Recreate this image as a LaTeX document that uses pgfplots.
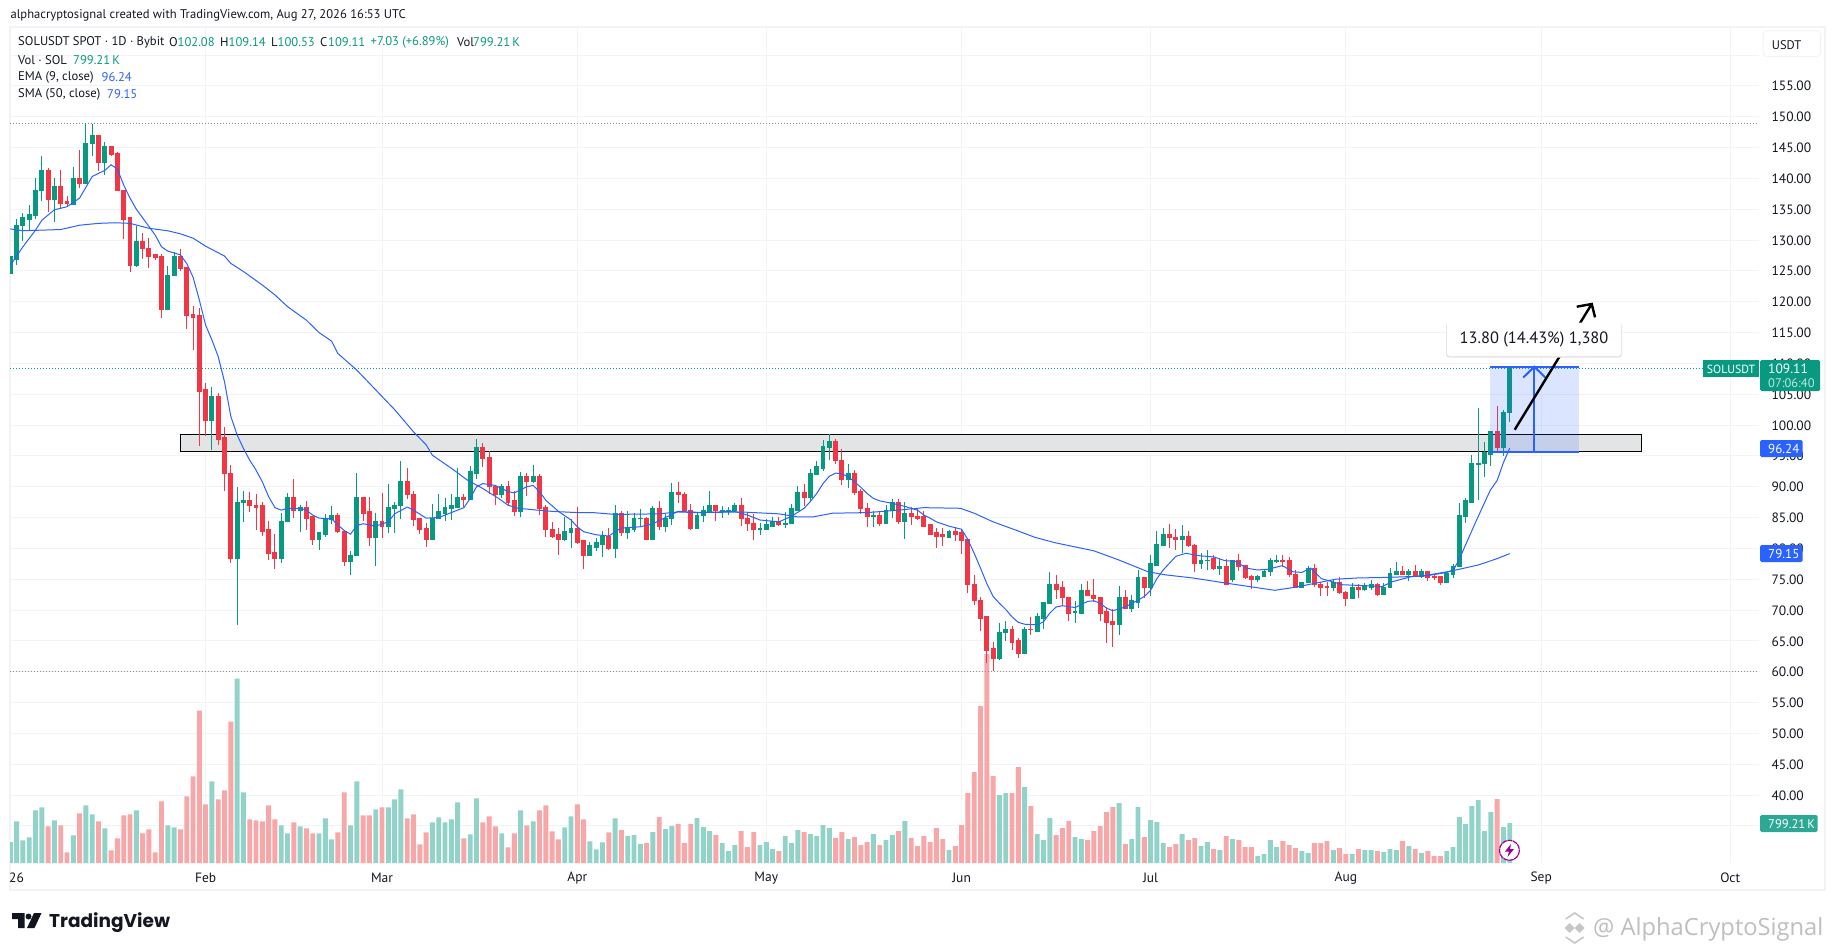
\documentclass[border=0pt]{standalone}
\usepackage{pgfplots}
\usepackage{pgfplotstable}
\usepackage{fontspec}
\pgfplotsset{compat=1.18}
\setmainfont{PT Sans}
\newfontfamily\logofont{Poppins}
\newfontfamily\wmfont{Open Sans}
\definecolor{up}{HTML}{089981}
\definecolor{dn}{HTML}{F23645}
\definecolor{vup}{HTML}{92D3C9}
\definecolor{vdn}{HTML}{F8A7A9}
\definecolor{tvblue}{HTML}{2962FF}
\definecolor{gridc}{HTML}{F2F3F5}
\definecolor{txt}{HTML}{131722}
\definecolor{zonec}{HTML}{E3E4E6}
\pgfplotstableread{
d o h l c v
0 124.5 127.4 124.5 127.4 420
1 126.9 133.4 125.9 132.4 832
2 132.3 134.3 129.9 133.6 453
3 133.4 135.7 131.7 134.2 513
4 134.0 140.1 133.4 138.1 1052
5 138.0 143.6 136.4 141.3 1112
7 136.5 140.1 133.0 138.6 852
10 135.8 141.9 135.8 139.9 553
12 139.2 148.9 139.2 145.7 1152
13 145.6 148.8 143.6 146.9 972
15 142.5 145.9 140.5 145.1 693
20 125.8 132.3 125.6 129.7 1052
25 118.8 125.8 118.6 124.3 753
26 124.2 128.1 124.2 127.4 713
32 100.7 106.2 96.0 104.7 1632
36 78.3 90.0 67.6 87.5 3690
37 87.5 89.3 84.3 87.7 1412
43 78.3 85.7 77.6 84.4 753
44 84.3 89.0 84.3 88.2 593
46 86.1 87.0 82.7 86.6 733
49 81.5 82.7 79.7 82.5 593
50 82.3 85.6 81.8 84.8 892
51 84.6 86.9 84.0 85.3 473
54 77.8 79.6 75.7 78.9 753
55 78.8 92.2 78.8 88.2 1632
58 81.7 85.7 77.1 84.4 1072
60 83.5 90.4 82.5 86.7 1112
61 86.5 87.5 82.5 87.0 1272
62 86.9 94.2 84.8 90.9 1472
67 81.5 87.2 81.5 84.9 813
68 84.8 88.8 84.8 85.9 912
69 85.7 88.2 84.4 86.7 813
70 86.5 88.8 84.6 86.9 872
71 86.7 93.0 86.7 88.2 1212
73 88.0 93.4 87.8 92.4 573
74 92.2 97.7 91.3 96.3 1292
78 88.8 90.4 88.2 90.0 593
81 86.0 92.4 85.1 91.6 1052
83 90.8 93.5 90.6 91.7 832
88 81.4 85.1 81.2 82.7 713
89 82.5 84.8 80.1 83.3 932
92 78.8 81.0 78.8 80.4 433
93 80.2 81.7 79.6 80.9 273
94 80.7 82.8 78.6 82.0 413
96 79.9 87.0 78.4 85.6 892
98 82.5 86.1 81.5 83.3 539
99 83.1 85.7 82.7 84.9 559
100 84.8 86.4 83.6 84.9 380
102 81.4 86.9 81.4 86.5 619
104 83.6 85.6 82.7 84.9 679
105 84.8 90.6 83.8 89.1 739
109 83.3 85.9 83.3 85.4 899
110 85.3 86.9 84.3 86.1 719
111 85.9 89.3 85.9 86.9 639
113 85.9 86.9 84.9 86.2 400
114 85.9 86.7 85.4 86.2 240
115 86.1 87.4 85.9 87.0 360
119 83.0 84.1 82.2 83.2 360
120 83.0 84.8 83.0 83.8 420
121 83.6 85.1 83.5 84.3 280
123 83.8 85.9 83.3 84.1 539
124 84.0 87.2 84.0 86.4 400
125 86.2 90.1 86.2 89.1 659
127 88.3 92.9 87.7 92.1 579
128 91.9 94.2 91.9 93.2 539
129 93.0 97.5 92.5 96.6 759
130 96.4 98.5 94.3 97.4 699
133 91.1 93.7 89.8 92.2 480
137 85.2 86.1 83.5 85.4 579
139 84.1 87.0 84.0 86.2 460
140 86.1 88.0 85.0 87.4 559
142 84.3 87.5 81.5 85.7 839
149 81.8 83.0 81.8 82.8 260
157 62.1 67.9 61.9 66.4 1359
158 66.3 68.2 65.0 66.8 1399
161 63.0 67.2 63.0 66.9 1518
163 66.6 69.5 66.6 68.9 579
164 68.7 71.3 67.0 71.3 460
165 71.1 76.2 71.1 74.1 899
169 69.7 71.5 67.9 69.8 519
170 69.5 74.2 69.5 73.2 480
176 67.6 73.9 66.0 72.0 1199
178 70.3 72.4 69.7 71.5 480
179 71.3 76.5 70.3 75.2 1119
181 73.6 78.9 72.3 77.5 859
182 77.3 82.8 77.1 80.7 819
183 80.5 83.3 80.4 82.3 400
186 81.5 83.8 79.2 82.0 579
189 77.6 79.2 76.7 78.1 340
190 78.0 79.7 76.5 78.1 420
192 76.8 78.3 75.7 77.0 260
194 74.9 78.0 74.6 78.0 480
198 74.9 75.7 74.5 75.5 140
199 75.4 76.5 75.4 76.3 180
200 76.2 78.4 75.5 78.0 460
201 77.8 78.9 77.6 78.1 320
205 73.7 74.5 73.6 74.5 240
206 74.4 77.1 74.4 76.8 200
210 73.6 75.0 73.1 74.5 260
213 71.8 74.4 71.8 73.6 180
215 73.4 74.4 73.1 73.9 260
216 73.6 74.9 73.3 74.1 260
218 72.6 74.4 72.4 73.7 220
219 73.6 76.8 73.6 76.0 280
220 75.8 77.8 75.8 76.3 260
222 75.8 76.6 74.7 76.3 340
224 75.4 76.6 75.2 76.3 200
228 74.5 76.2 74.4 76.0 240
229 75.8 77.5 75.2 77.1 320
230 77.0 87.4 77.0 85.4 919
231 85.2 88.2 84.1 87.7 779
232 87.5 95.1 87.5 93.8 1139
233 93.7 102.7 87.8 93.8 1259
234 93.7 97.2 91.6 95.5 639
235 95.2 98.9 93.4 98.9 1019
237 96.3 102.5 94.9 102.0 719
238 102.08 109.14 100.53 109.11 799.21
}\upbars
\pgfplotstableread{
d o h l c v
6 141.3 141.7 134.5 136.5 733
8 138.6 141.3 135.1 136.0 753
9 136.2 137.1 135.3 136.0 213
11 139.9 144.6 138.4 139.2 992
14 146.9 146.9 141.2 142.5 832
16 145.1 145.2 143.6 143.8 253
17 144.0 144.3 138.0 138.0 493
18 138.1 138.1 130.2 133.4 952
19 133.6 133.6 124.8 125.8 972
21 129.7 131.1 126.9 128.6 593
22 128.7 130.3 125.4 127.4 673
23 127.6 127.7 126.8 127.2 213
24 127.4 127.7 117.4 118.8 1232
27 127.4 128.5 125.0 125.3 673
28 125.5 125.5 115.6 117.8 1332
29 118.0 119.3 112.2 117.5 1732
30 117.7 118.9 96.6 105.5 3050
31 105.7 106.8 98.3 100.7 1172
33 104.7 105.2 96.8 97.7 1272
34 97.9 99.7 89.3 92.1 1452
35 92.2 93.5 77.6 78.3 2830
38 87.7 89.1 85.9 86.9 872
39 87.0 88.8 83.0 86.7 852
40 86.9 87.5 82.0 82.8 832
41 83.0 84.4 78.1 79.1 1152
42 79.3 82.3 76.7 78.3 872
45 88.2 91.2 85.0 86.1 813
47 86.6 87.7 83.0 84.9 693
48 85.1 85.1 80.5 81.5 593
52 85.3 85.7 82.5 82.7 613
53 82.8 82.8 77.1 77.8 1412
56 88.2 88.2 84.4 85.7 952
57 85.9 88.3 80.4 81.7 952
59 84.4 89.0 81.7 83.5 1112
63 90.9 93.0 88.0 88.7 892
64 88.8 89.3 83.6 84.6 972
65 84.8 84.8 82.3 83.1 373
66 83.3 84.1 80.2 81.5 613
72 88.2 88.8 86.7 88.0 493
75 96.3 97.1 93.2 94.5 813
76 94.7 95.8 88.8 90.0 932
77 90.1 90.1 87.0 88.8 733
79 90.0 90.9 86.9 87.4 313
80 87.7 89.3 85.3 86.0 593
82 91.6 92.2 88.5 90.8 753
84 91.7 92.0 85.4 86.4 1052
85 86.6 87.0 81.8 83.0 1152
86 83.1 84.3 81.7 82.0 633
87 82.2 83.3 78.9 81.4 473
90 83.3 86.7 80.7 81.0 1172
91 81.2 81.2 76.7 78.8 872
95 82.0 83.3 79.7 79.9 613
97 85.6 86.0 82.0 82.5 659
101 84.9 85.1 81.4 81.4 400
103 86.5 87.7 83.0 83.6 919
106 89.1 90.8 87.4 88.7 779
107 88.8 89.1 85.9 86.1 400
108 86.2 87.2 83.0 83.3 779
112 86.9 86.9 84.4 86.1 559
116 87.0 88.2 83.6 84.8 639
117 84.9 85.7 82.8 84.0 320
118 84.1 85.6 81.4 83.0 619
122 84.3 85.1 83.6 83.8 240
126 89.1 90.4 86.9 88.3 619
131 97.4 97.7 93.7 94.2 500
132 94.3 96.1 90.3 91.1 619
134 92.2 92.7 88.7 89.1 519
135 89.3 89.6 85.6 86.4 360
136 86.5 87.4 83.5 85.1 420
138 85.4 85.9 83.6 84.1 360
141 87.4 88.0 84.0 84.3 639
143 85.7 86.7 83.8 85.1 500
144 85.2 86.5 84.6 84.9 340
145 85.1 86.1 83.6 83.6 539
146 83.8 84.0 82.2 82.3 420
147 82.5 83.3 80.0 82.0 699
148 82.2 83.3 80.4 82.0 480
150 82.8 83.5 81.2 82.3 340
151 82.5 83.1 79.1 81.2 759
152 81.4 81.4 72.8 74.1 1399
153 74.2 75.7 70.8 71.5 1818
154 71.6 72.1 66.6 68.7 3137
155 68.9 69.0 61.4 63.5 4176
156 63.7 64.8 60.1 62.1 1738
159 66.8 67.4 63.5 64.8 1399
160 65.0 65.5 62.2 63.0 1918
162 66.9 68.9 66.0 66.8 1139
166 74.1 75.7 71.8 73.4 559
167 73.6 74.7 70.7 72.0 699
168 72.1 72.1 68.2 69.5 839
171 73.2 74.7 72.3 72.3 460
172 72.4 75.0 71.3 71.8 639
173 72.0 72.1 68.2 69.5 739
174 69.7 70.5 64.6 67.9 1019
175 68.1 70.2 64.0 67.6 1119
177 72.0 73.3 70.2 70.3 380
180 75.2 75.2 72.0 73.6 519
184 82.3 84.0 80.0 81.7 320
185 81.8 83.1 79.7 81.5 380
187 82.0 82.8 80.2 80.4 460
188 80.5 80.7 76.2 77.6 500
191 78.3 78.9 76.5 76.7 280
193 77.0 78.3 74.1 74.2 539
195 78.0 79.1 76.3 77.1 460
196 77.3 77.3 75.0 75.2 320
197 75.4 75.7 73.4 74.9 320
202 78.1 78.9 77.0 77.8 440
203 78.0 78.6 75.4 75.7 360
204 75.8 76.5 73.6 73.7 300
207 76.8 77.5 73.7 74.1 400
208 74.2 74.5 72.3 73.7 400
209 73.9 74.5 72.3 73.7 440
211 74.5 75.4 72.6 72.8 300
212 72.9 73.1 70.7 71.8 180
214 73.6 74.2 72.0 73.4 280
217 74.1 74.4 72.3 72.6 240
221 76.3 77.1 75.7 75.8 440
223 76.3 77.3 75.4 75.5 280
225 76.3 76.3 74.7 75.2 240
226 75.5 75.7 74.9 75.2 140
227 75.4 75.5 74.1 74.5 140
236 98.9 103.1 95.4 96.3 1279
}\dnbars
\pgfplotstableread{
d p
0 125.9
2 128.9
4 131.6
5 133.2
7 134.9
9 135.4
11 136.8
13 140.3
14 140.8
15 141.3
16 142.2
17 141.5
18 138.9
19 136.8
20 135.0
22 132.2
23 130.8
24 128.9
25 128.2
27 127.6
28 126.2
29 124.0
30 120.3
31 116.2
32 113.8
33 111.1
34 107.0
35 101.4
36 98.4
37 96.2
38 94.3
39 92.7
40 90.8
41 88.4
42 86.6
43 86.2
44 86.5
46 86.5
47 86.2
48 85.4
49 84.9
51 84.8
52 83.8
53 82.9
54 82.3
55 83.7
56 84.0
58 83.6
60 84.3
61 85.6
63 86.7
64 86.2
66 84.9
68 85.0
70 85.8
72 86.6
73 88.1
74 90.0
75 90.5
77 90.2
79 89.2
80 89.0
82 90.0
83 90.2
84 89.2
85 87.8
87 86.0
89 84.6
90 83.5
91 82.7
93 82.2
95 82.0
96 82.7
97 83.3
100 83.5
102 84.0
106 86.0
110 85.8
115 86.0
117 85.4
119 84.6
122 84.3
124 85.2
126 86.5
127 87.6
128 88.9
129 90.5
130 91.7
131 92.2
132 92.1
133 91.6
134 90.8
135 89.9
136 88.9
137 88.1
138 87.7
140 87.3
142 86.8
144 86.2
145 85.4
146 84.9
147 84.3
149 83.6
151 83.1
152 81.4
153 79.2
154 76.8
155 74.3
156 72.2
157 71.1
158 70.1
159 68.9
160 68.0
161 67.7
163 67.6
164 68.1
165 69.5
166 70.5
167 70.7
169 70.4
171 71.4
172 71.5
173 71.1
174 70.3
175 69.9
177 70.5
179 71.6
180 72.2
181 73.2
182 75.1
183 76.5
184 77.6
185 78.7
186.6 79.2
188.8 78.8
191.1 78.6
192.8 78.0
194.5 77.9
196.2 76.8
197.9 76.5
199.6 76.6
201.9 77.2
203.6 76.2
205 76.1
206.4 76.8
208.1 75.1
209.8 74.6
211.5 74.1
213.8 74.0
216 73.9
217.7 73.8
219.4 74.6
222.3 75.4
225.1 75.6
228 76.1
229.1 76.5
230.1 78.5
232.7 84.5
234.9 89.4
236 91.0
237 93.9
238 96.24
}\ema
\pgfplotstableread{
d p
0 131.8
2 131.5
5 131.6
8 131.7
11 132.4
14 132.7
16.6 132.8
19 132.7
22 131.9
25 131.5
27 131.0
29 130.3
31 129.0
34 127.4
35 126.2
37 124.9
40 122.7
42 121.1
44 119.2
47 117.0
49 115.0
51 113.6
52 111.6
55 108.9
58 105.7
61 102.5
64 98.9
66 96.8
67 95.1
70 93.0
72.5 91.1
75 89.7
77.5 88.1
79 87.0
80.6 86.5
83.7 86.2
86 86.0
90 85.8
92.5 85.8
96 85.5
103 85.6
106 85.9
109 85.8
116 85.9
122 85.6
125 85.1
127.4 85.1
130.5 85.7
136 85.8
141 86.2
145 86.6
150.8 86.5
153 85.7
156 84.3
159.5 83.0
162.6 81.8
165.9 80.9
172 79.6
176 78.1
180.6 76.2
183.4 75.7
187.7 75.2
193.4 74.3
200.7 73.2
204 73.7
206.9 74.3
210.4 75.0
213.8 75.2
218.9 75.3
224 75.5
228.6 76.3
233 77.3
235.9 78.3
238 79.15
}\sma
\pgfplotsset{pane/.style={
  at={(10pt,-863pt)},anchor=south west,
  width=1749pt,height=836pt,scale only axis,
  xmin=-0.05,xmax=277.57}}
\begin{document}
\begin{tikzpicture}
\begin{scope}[x=1pt,y=-1pt]
\path[use as bounding box] (0,0) rectangle (1835,951);
\fill[white] (0,0) rectangle (1835,951);
\draw[gridc,line width=2pt] (10,27) rectangle (1825,890);
\end{scope}
% grid and tick labels
\begin{axis}[pane,ymin=28.98,ymax=164.54,
  axis line style={draw=none},tick style={draw=none},major tick length=0pt,
  grid=major,grid style={gridc,line width=1pt},
  xtick={31,59,90,120,151,181,212,243,273},
  xticklabels={Feb,Mar,Apr,May,Jun,Jul,Aug,Sep,Oct},
  ytick={40,45,...,155},
  extra y ticks={35,160},extra y tick labels={},
  yticklabel pos=right,
  /pgf/number format/fixed,/pgf/number format/fixed zerofill,/pgf/number format/precision=2,
  /pgf/number format/assume math mode=true,
  y tick label style={anchor=west,xshift=9pt,yshift=-0.4pt,text=txt,font=\fontsize{13.5}{15}\selectfont},
  x tick label style={anchor=center,yshift=-14.8pt,text=txt,font=\fontsize{13.5}{15}\selectfont},
]
\end{axis}
% volume
\begin{axis}[pane,hide axis,ymin=0,ymax=16720]
\addplot[ybar,bar shift=0pt,bar width=4.9pt,fill=vup,draw=none] table[x=d,y=v] {\upbars};
\addplot[ybar,bar shift=0pt,bar width=4.9pt,fill=vdn,draw=none] table[x=d,y=v] {\dnbars};
\end{axis}
% price
\begin{axis}[pane,hide axis,ymin=28.98,ymax=164.54]
\addplot[gray!90,dotted,line width=1pt,forget plot] coordinates {(-0.05,148.9) (277.57,148.9)};
\addplot[gray!90,dotted,line width=1pt,forget plot] coordinates {(-0.05,60.0) (277.57,60.0)};
\addplot[up,dotted,line width=1pt,forget plot] coordinates {(-0.05,109.11) (277.57,109.11)};
% resistance zone
\addplot[draw=black,fill=zonec,line width=1.2pt,forget plot] coordinates {(26.98,95.74) (26.98,98.5) (258.95,98.5) (258.95,95.74) (26.98,95.74)};
% wicks
\addplot[draw=none,forget plot,error bars/.cd,y dir=both,y explicit,error mark=none,error bar style={line width=1pt,color=up}]
  table[x=d,y expr=(\thisrow{h}+\thisrow{l})/2,y error expr=(\thisrow{h}-\thisrow{l})/2] {\upbars};
\addplot[draw=none,forget plot,error bars/.cd,y dir=both,y explicit,error mark=none,error bar style={line width=1pt,color=dn}]
  table[x=d,y expr=(\thisrow{h}+\thisrow{l})/2,y error expr=(\thisrow{h}-\thisrow{l})/2] {\dnbars};
% bodies
\addplot[draw=none,forget plot,error bars/.cd,y dir=both,y explicit,error mark=none,error bar style={line width=4.9pt,color=up}]
  table[x=d,y expr=(\thisrow{c}+\thisrow{o})/2,y error expr=abs(\thisrow{c}-\thisrow{o})/2+0.08] {\upbars};
\addplot[draw=none,forget plot,error bars/.cd,y dir=both,y explicit,error mark=none,error bar style={line width=4.9pt,color=dn}]
  table[x=d,y expr=(\thisrow{c}+\thisrow{o})/2,y error expr=abs(\thisrow{c}-\thisrow{o})/2+0.08] {\dnbars};
\addplot[tvblue,line width=1pt,forget plot] table[x=d,y=p] {\sma};
\addplot[tvblue,line width=1pt,forget plot] table[x=d,y=p] {\ema};
% measure tool
\addplot[draw=none,fill=tvblue,fill opacity=0.16,forget plot] coordinates {(234.8,95.68) (234.8,109.46) (249,109.46) (249,95.68)};
\addplot[tvblue,line width=2pt,forget plot] coordinates {(234.8,109.46) (249,109.46)};
\addplot[tvblue,line width=2pt,forget plot] coordinates {(234.8,95.68) (249,95.68)};
\addplot[tvblue,line width=2pt,forget plot] coordinates {(241.9,95.5) (241.9,109.46)};
\addplot[tvblue,line width=2pt,forget plot] coordinates {(240.15,107.7) (241.9,109.46) (243.65,107.7)};
\end{axis}
\begin{scope}[x=1pt,y=-1pt]
% first month label, clipped to its last two digits as in the chart
\node[text=txt,font=\fontsize{13.5}{15}\selectfont] at (16.6,877.5) {26};
% hand-drawn arrow, under the label box
\draw[black,line width=2.4pt] (1514.7,429.7) -- (1591.7,304);
\draw[black,line width=2.4pt] (1576.7,306.7) -- (1591.7,304) -- (1595,317.3);
\fill[black!10,rounded corners=3pt] (1446,323.5) rectangle (1622,357.5);
\fill[white,rounded corners=3pt] (1447,322.7) rectangle (1621,356);
\node[text=txt,font=\fontsize{16.4}{18}\selectfont] at (1534,339.8) {13.80 (14.43\%) 1,380};
% tags
\fill[up] (1703,360) rectangle (1759,377);
\node[text=white,font=\fontsize{11.8}{14}\selectfont] at (1731,369) {SOLUSDT};
\fill[up,rounded corners=1.5pt] (1760,360) rectangle (1820,391);
\node[text=white,anchor=west,inner sep=0pt,font=\fontsize{13.5}{15}\selectfont] at (1768,369) {109.11};
\node[text=white!75!up,anchor=west,inner sep=0pt,font=\fontsize{12.5}{15}\selectfont] at (1768,383) {07:06:40};
\fill[tvblue,rounded corners=1.5pt] (1760,440) rectangle (1802.7,457);
\node[text=white,anchor=west,inner sep=0pt,font=\fontsize{13}{15}\selectfont] at (1768,449) {96.24};
\fill[tvblue,rounded corners=1.5pt] (1760,545) rectangle (1802.7,562);
\node[text=white,anchor=west,inner sep=0pt,font=\fontsize{13}{15}\selectfont] at (1768,554) {79.15};
\fill[up!85!white,rounded corners=1.5pt] (1760,815) rectangle (1817.6,832);
\node[text=white,anchor=west,inner sep=0pt,font=\fontsize{12.6}{15}\selectfont] at (1768,824) {799.21\,K};
% USDT button
\draw[gridc,line width=1pt,rounded corners=4pt] (1763,30.7) rectangle (1820.7,56.7);
\node[text=txt,anchor=west,inner sep=0pt,font=\fontsize{12.5}{14}\selectfont] at (1771.7,45) {USDT};
% header and legend
\node[anchor=west,text=txt,font=\fontsize{12.6}{14}\selectfont] at (7,15.5) {alphacryptosignal created with TradingView.com, Aug 27, 2026 16:53 UTC};
\tikzset{lg/.style={anchor=west,inner sep=0pt,text=txt,font=\fontsize{12.6}{15}\selectfont},
  lgv/.style={lg,text=up},lgb/.style={lg,text=tvblue}}
\node[lg] at (18,42.5) {SOLUSDT SPOT · 1D · Bybit};
\node[lg] at (169,42.5) {O};\node[lgv] at (177.5,42.5) {102.08};
\node[lg] at (220,42.5) {H};\node[lgv] at (228.5,42.5) {109.14};
\node[lg] at (271,42.5) {L};\node[lgv] at (277.5,42.5) {100.53};
\node[lg] at (320,42.5) {C};\node[lgv] at (328,42.5) {109.11};
\node[lgv] at (370.5,42.5) {+7.03 (+6.89\%)};
\node[lg] at (457,42.5) {Vol};\node[lgv] at (473,42.5) {799.21\,K};
\node[lg] at (18,60) {Vol · SOL};\node[lgv] at (73,60) {799.21\,K};
\node[lg] at (18,77) {EMA (9, close)};\node[lgb] at (101.5,77) {96.24};
\node[lg] at (18,94) {SMA (50, close)};\node[lgb] at (107,94) {79.15};
% lightning
\filldraw[fill=white,draw=violet!80!magenta,line width=1.2pt,dash pattern=on 5pt off 0.6pt] (1509.4,850.3) circle (10);
\fill[violet!80!magenta] (1511,844) -- (1505,851.5) -- (1509,851.5) -- (1507.5,857) -- (1514,849) -- (1510,849) -- cycle;
% TradingView logo
\fill[txt!90!black] (12,913) -- (24.5,913) -- (24.5,928) -- (18,928) -- (18,919) -- (12,919) -- cycle;
\fill[txt!90!black] (28.5,916.5) circle (3);
\fill[txt!90!black] (34,913) -- (41.5,913) -- (34.5,928) -- (27,928) -- cycle;
\node[anchor=west,inner sep=0pt,text=txt,font=\logofont\bfseries\fontsize{18.5}{22}\selectfont] at (49,922.5) {TradingView};
% watermark
\begin{scope}[shift={(1574.7,928)},black!22]
\draw[line width=1.6pt] (-9,-9) -- (0,-15) -- (9,-9);
\draw[line width=1.6pt] (-9,9) -- (0,15) -- (9,9);
\fill (0,0) -- (5,-5) -- (10,0) -- (5,5) -- cycle;
\fill (-10,0) -- (-5,-5) -- (0,0) -- (-5,5) -- cycle;
\end{scope}
\node[anchor=west,inner sep=0pt,text=black!25,font=\wmfont\fontsize{23.7}{28}\selectfont] at (1593,929) {@ AlphaCryptoSignal};
\end{scope}
\end{tikzpicture}
\end{document}
